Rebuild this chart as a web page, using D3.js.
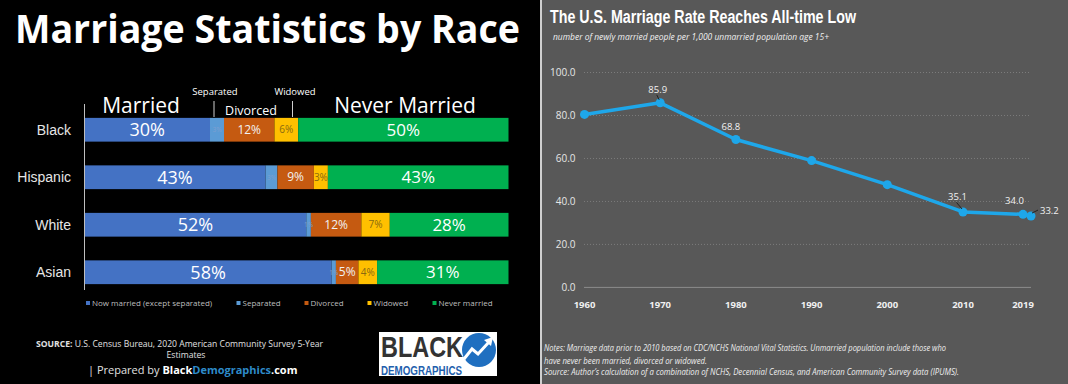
<!DOCTYPE html>
<html>
<head>
<meta charset="utf-8">
<script src="https://cdnjs.cloudflare.com/ajax/libs/d3/7.8.5/d3.min.js"></script>
<style>
  body { margin: 0; background: #000; }
  svg { display: block; }
</style>
</head>
<body>
<div id="grafico"></div>
<script>
// panel izquierdo: estado civil por raza (%)
const razas = ["Black", "Hispanic", "White", "Asian"];
const estados = ["Now married (except separated)", "Separated", "Divorced", "Widowed", "Never married"];
const casados = [29.6, 42.7, 52.3, 58.3];
const separados = [3.3, 2.8, 1.1, 1.0];
const divorciados = [11.9, 8.6, 11.9, 5.3];
const viudos = [5.6, 3.3, 6.7, 4.4];
const solteros = [49.6, 42.6, 28.0, 31.0];

// panel derecho: tasa de matrimonio
const anios = [1960, 1970, 1980, 1990, 2000, 2010, 2019, 2020];
const tasa = [80.5, 85.9, 68.8, 59.0, 47.8, 35.1, 34.0, 33.2];
const ticksAnios = [1960, 1970, 1980, 1990, 2000, 2010, 2019];
const ticksTasa = [0, 20, 40, 60, 80, 100];
const conEtiqueta = [1970, 1980, 2010, 2019, 2020];

const colores = ["#4472c4", "#5b9bd5", "#c55a11", "#ffc000", "#00b050"];
const fuente = "'Open Sans', sans-serif";

const $svg = d3.select("#grafico")
    .append("svg")
    .attr("width", 1068)
    .attr("height", 384);

$svg.append("rect").attr("width", 1068).attr("height", 384).attr("fill", "#000");

// ---------- izquierda ----------
$svg.append("text")
    .attr("x", 15).attr("y", 43)
    .attr("fill", "#fff")
    .attr("font-family", fuente)
    .attr("font-weight", "bold")
    .attr("font-size", 40)
    .attr("textLength", 505)
    .attr("lengthAdjust", "spacingAndGlyphs")
    .text("Marriage Statistics by Race");

const filas = razas.map((r, i) => ({
    raza: r,
    s0: casados[i], s1: separados[i], s2: divorciados[i], s3: viudos[i], s4: solteros[i]
}));
const claves = ["s0", "s1", "s2", "s3", "s4"];
const pilas = d3.stack().keys(claves)(filas);

const xBarra = d3.scaleLinear().domain([0, 100]).range([84.5, 508.5]);
const yBarra = d3.scaleBand().domain(razas).range([106, 296]).paddingInner(0.5).paddingOuter(0.25);

const estilosEtiqueta = [
    { size: 18, color: "#ffffff" },
    { size: 6.5, color: "#7f9fd0" },
    { size: 12, color: "#f2f2f2" },
    { size: 10, color: "#8a6a10" },
    { size: 17, color: "#ffffff" }
];

const grupos = $svg.append("g")
    .selectAll("g")
    .data(pilas)
    .join("g")
    .attr("fill", (d, i) => colores[i]);

grupos.selectAll("rect")
    .data(d => d)
    .join("rect")
    .attr("x", d => xBarra(d[0]))
    .attr("y", d => yBarra(d.data.raza))
    .attr("width", d => xBarra(d[1]) - xBarra(d[0]))
    .attr("height", yBarra.bandwidth());

pilas.forEach((serie, i) => {
    $svg.append("g")
        .selectAll("text")
        .data(serie)
        .join("text")
        .attr("x", d => (xBarra(d[0]) + xBarra(d[1])) / 2)
        .attr("y", d => yBarra(d.data.raza) + yBarra.bandwidth() / 2)
        .attr("dy", "0.35em")
        .attr("text-anchor", "middle")
        .attr("font-family", fuente)
        .attr("font-size", estilosEtiqueta[i].size)
        .attr("fill", estilosEtiqueta[i].color)
        .text(d => Math.round(d[1] - d[0]) + "%");
});

// eje vertical y categorias
$svg.append("line")
    .attr("x1", xBarra(0)).attr("x2", xBarra(0))
    .attr("y1", 104).attr("y2", 290)
    .attr("stroke", "#bfbfbf").attr("stroke-width", 1);

$svg.append("g")
    .selectAll("text")
    .data(razas)
    .join("text")
    .attr("x", 71)
    .attr("y", d => yBarra(d) + yBarra.bandwidth() / 2)
    .attr("dy", "0.35em")
    .attr("text-anchor", "end")
    .attr("font-family", "'Liberation Sans', Arial, sans-serif")
    .attr("font-size", 14)
    .attr("fill", "#e6e6e6")
    .text(d => d);

// encabezados de grupos
const encabezados = [
    { t: "Married", x: 141, y: 113, s: 21 },
    { t: "Separated", x: 215, y: 95, s: 9.5 },
    { t: "Divorced", x: 251, y: 115, s: 12.5 },
    { t: "Widowed", x: 295, y: 95, s: 9.5 },
    { t: "Never Married", x: 405, y: 113, s: 21 }
];
$svg.append("g")
    .selectAll("text")
    .data(encabezados)
    .join("text")
    .attr("x", d => d.x).attr("y", d => d.y)
    .attr("text-anchor", "middle")
    .attr("font-family", fuente)
    .attr("font-size", d => d.s)
    .attr("fill", "#fff")
    .text(d => d.t);

[214, 292.5].forEach(x => {
    $svg.append("line")
        .attr("x1", x).attr("x2", x)
        .attr("y1", 101).attr("y2", 117)
        .attr("stroke", "#cfcfcf").attr("stroke-width", 1);
});

// leyenda
const leyendaX = [88, 238.5, 306.5, 369.5, 434.5];
const leyenda = $svg.append("g")
    .selectAll("g")
    .data(estados)
    .join("g")
    .attr("transform", (d, i) => `translate(${leyendaX[i]},303)`);
leyenda.append("rect")
    .attr("x", -2).attr("y", -2)
    .attr("width", 4).attr("height", 4)
    .attr("fill", (d, i) => colores[i]);
leyenda.append("text")
    .attr("x", 4).attr("dy", "0.35em")
    .attr("font-family", fuente)
    .attr("font-size", 8)
    .attr("fill", "#bfbfbf")
    .text(d => d);

// fuente
const textoFuente = $svg.append("text")
    .attr("x", 36).attr("y", 347)
    .attr("font-family", fuente)
    .attr("font-size", 8.6)
    .attr("fill", "#e0e0e0");
textoFuente.append("tspan").attr("font-weight", "bold").text("SOURCE:");
textoFuente.append("tspan").text("  U.S. Census Bureau, 2020 American Community Survey 5-Year");

$svg.append("text")
    .attr("x", 186).attr("y", 358)
    .attr("text-anchor", "middle")
    .attr("font-family", fuente)
    .attr("font-size", 8.6)
    .attr("fill", "#e0e0e0")
    .text("Estimates");

const preparado = $svg.append("text")
    .attr("x", 88).attr("y", 374)
    .attr("font-family", fuente)
    .attr("font-size", 11)
    .attr("fill", "#e0e0e0");
preparado.append("tspan").text("| Prepared by ");
preparado.append("tspan").attr("font-weight", "bold").attr("fill", "#fff").text("Black");
preparado.append("tspan").attr("font-weight", "bold").attr("fill", "#2e8bc9").text("Demographics");
preparado.append("tspan").attr("font-weight", "bold").attr("fill", "#fff").text(".com");

// logo
$svg.append("rect")
    .attr("x", 379).attr("y", 332)
    .attr("width", 118).attr("height", 44)
    .attr("fill", "#fff");
$svg.append("text")
    .attr("x", 381).attr("y", 357)
    .attr("font-family", "'Liberation Sans Narrow', sans-serif")
    .attr("font-weight", "bold")
    .attr("font-size", 30)
    .attr("fill", "#333")
    .attr("textLength", 82)
    .attr("lengthAdjust", "spacingAndGlyphs")
    .text("BLACK");
$svg.append("text")
    .attr("x", 381).attr("y", 374.5)
    .attr("font-family", "'Liberation Sans Narrow', sans-serif")
    .attr("font-weight", "bold")
    .attr("font-size", 12)
    .attr("fill", "#1f5fad")
    .attr("textLength", 81)
    .attr("lengthAdjust", "spacingAndGlyphs")
    .text("DEMOGRAPHICS");
$svg.append("circle")
    .attr("cx", 479).attr("cy", 350).attr("r", 17)
    .attr("fill", "#1f6fc0");
$svg.append("path")
    .attr("d", "M464,359 L472,349 L478,354 L489,342")
    .attr("fill", "none")
    .attr("stroke", "#fff")
    .attr("stroke-width", 3);
$svg.append("path")
    .attr("d", "M484,340 L493,337 L491,346 Z")
    .attr("fill", "#fff");

// ---------- derecha ----------
$svg.append("rect")
    .attr("x", 540).attr("y", 0)
    .attr("width", 528).attr("height", 384)
    .attr("fill", "#585858");
$svg.append("line")
    .attr("x1", 541).attr("x2", 541)
    .attr("y1", 0).attr("y2", 384)
    .attr("stroke", "#cfcfcf").attr("stroke-width", 2);

$svg.append("text")
    .attr("x", 550).attr("y", 23)
    .attr("font-family", "'Liberation Sans Narrow', sans-serif")
    .attr("font-weight", "bold")
    .attr("font-size", 17.5)
    .attr("fill", "#fff")
    .attr("textLength", 306)
    .attr("lengthAdjust", "spacingAndGlyphs")
    .text("The U.S. Marriage Rate Reaches All-time Low");

$svg.append("text")
    .attr("x", 553).attr("y", 40)
    .attr("font-family", fuente)
    .attr("font-style", "italic")
    .attr("font-size", 9)
    .attr("fill", "#f0f0f0")
    .attr("textLength", 276)
    .attr("lengthAdjust", "spacingAndGlyphs")
    .text("number of newly married people per 1,000 unmarried population age 15+");

const xLinea = d3.scaleLinear()
    .domain([1960, 2010, 2019, 2020])
    .range([584.5, 963, 1023, 1031]);
const yLinea = d3.scaleLinear().domain([0, 100]).range([287.4, 72.5]);

// cuadricula
$svg.append("g")
    .selectAll("line")
    .data(ticksTasa)
    .join("line")
    .attr("x1", 584).attr("x2", 1031)
    .attr("y1", d => yLinea(d)).attr("y2", d => yLinea(d))
    .attr("stroke", d => d === 0 ? "#8c8c8c" : "#7c7c7c")
    .attr("stroke-width", 1)
    .attr("stroke-dasharray", d => d === 0 ? null : "1,2");

$svg.append("g")
    .selectAll("text")
    .data(ticksTasa)
    .join("text")
    .attr("x", 575.5)
    .attr("y", d => yLinea(d))
    .attr("dy", "0.35em")
    .attr("text-anchor", "end")
    .attr("font-family", fuente)
    .attr("font-size", 10)
    .attr("fill", "#e6e6e6")
    .text(d => d.toFixed(1));

$svg.append("g")
    .selectAll("text")
    .data(ticksAnios)
    .join("text")
    .attr("x", d => xLinea(d))
    .attr("y", 305)
    .attr("dy", "0.35em")
    .attr("text-anchor", "middle")
    .attr("font-family", fuente)
    .attr("font-weight", "bold")
    .attr("font-size", 9.5)
    .attr("fill", "#f0f0f0")
    .text(d => d);

const puntos = anios.map((a, i) => ({ anio: a, valor: tasa[i] }));

$svg.append("path")
    .datum(puntos)
    .attr("d", d3.line().x(d => xLinea(d.anio)).y(d => yLinea(d.valor)))
    .attr("fill", "none")
    .attr("stroke", "#1ea7ea")
    .attr("stroke-width", 3.5)
    .attr("stroke-linejoin", "round");

$svg.append("g")
    .selectAll("circle")
    .data(puntos)
    .join("circle")
    .attr("cx", d => xLinea(d.anio))
    .attr("cy", d => yLinea(d.valor))
    .attr("r", 4.5)
    .attr("fill", "#1ea7ea");

// etiquetas de valores, con su desplazamiento
const ubicacion = {
    1970: { dx: -2.5, dy: -10, ancla: "middle", guia: true },
    1980: { dx: -5, dy: -10, ancla: "middle", guia: false },
    2010: { dx: -5.5, dy: -11.5, ancla: "middle", guia: true },
    2019: { dx: -8.5, dy: -10, ancla: "middle", guia: false },
    2020: { dx: 9, dy: -2.5, ancla: "start", guia: true }
};
const etiquetados = puntos.filter(p => conEtiqueta.includes(p.anio));

etiquetados.forEach(p => {
    const u = ubicacion[p.anio];
    const px = xLinea(p.anio), py = yLinea(p.valor);
    if (u.guia) {
        const x0 = u.ancla === "start" ? px + 1 : px + u.dx - 1;
        const y0 = u.ancla === "start" ? py - 3 : py + u.dy + 2;
        const x1 = u.ancla === "start" ? px + 7 : px - 1;
        const y1 = u.ancla === "start" ? py - 6 : py - 3;
        $svg.append("line")
            .attr("x1", x0).attr("y1", y0)
            .attr("x2", x1).attr("y2", y1)
            .attr("stroke", "#222").attr("stroke-width", 1);
    }
    $svg.append("text")
        .attr("x", px + u.dx)
        .attr("y", py + u.dy)
        .attr("text-anchor", u.ancla)
        .attr("font-family", fuente)
        .attr("font-size", 9.5)
        .attr("fill", "#f2f2f2")
        .text(p.valor.toFixed(1));
});

// notas
const notas = [
    { t: "Notes: Marriage data prior to 2010 based on CDC/NCHS National Vital Statistics. Unmarried population include those who", y: 351, w: 402 },
    { t: "have never been married, divorced or widowed.", y: 363.5, w: 163 },
    { t: "Source: Author\u2019s calculation of a combination of NCHS, Decennial Census, and American Community Survey data (IPUMS).", y: 375, w: 415 }
];
$svg.append("g")
    .selectAll("text")
    .data(notas)
    .join("text")
    .attr("x", 544)
    .attr("y", d => d.y)
    .attr("font-family", fuente)
    .attr("font-style", "italic")
    .attr("font-size", 8.4)
    .attr("fill", "#eeeeee")
    .attr("textLength", d => d.w)
    .attr("lengthAdjust", "spacingAndGlyphs")
    .text(d => d.t);
</script>
</body>
</html>
